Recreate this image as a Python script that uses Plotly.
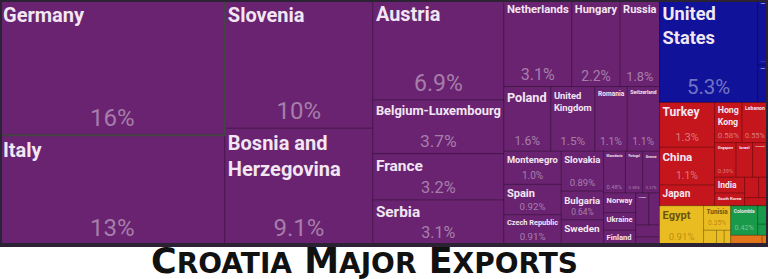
import math
import plotly.graph_objects as go

# ---------------- data ----------------
continents = ["Europe", "North America", "Asia", "Africa", "South America", "Oceania"]
continent_colors = ["#6a2370", "#10139a", "#c4161c", "#e9bd22", "#189a4a", "#e2741c"]

countries = [
    "Germany", "Italy", "Slovenia", "Bosnia and Herzegovina", "Austria",
    "Belgium-Luxembourg", "France", "Serbia", "Netherlands", "Hungary", "Russia",
    "Poland", "United Kingdom", "Romania", "Switzerland", "Montenegro", "Spain",
    "Czech Republic", "Slovakia", "Bulgaria", "Sweden", "Macedonia", "Portugal",
    "Greece", "Norway", "Ukraine", "Finland", "Ireland", "Denmark", "Albania", "Lithuania",
    "United States", "Canada", "Mexico",
    "Turkey", "China", "Japan", "Hong Kong", "Lebanon", "Singapore", "Israel",
    "United Arab Emirates", "India", "South Korea", "Saudi Arabia", "Iran", "Taiwan",
    "Egypt", "Tunisia", "Algeria", "Morocco", "Libya",
    "Colombia", "Brazil", "Argentina",
    "Australia", "New Zealand",
]
country_continent = (
    ["Europe"] * 31
    + ["North America"] * 3
    + ["Asia"] * 13
    + ["Africa"] * 5
    + ["South America"] * 3
    + ["Oceania"] * 2
)
shares = [
    16, 13, 10, 9.1, 6.9,
    3.7, 3.2, 3.1, 3.1, 2.2, 1.8,
    1.6, 1.5, 1.1, 1.1, 1.0, 0.92,
    0.91, 0.89, 0.64, 0.56, 0.48, 0.38,
    0.37, 0.33, 0.30, 0.25, 0.22, 0.18, 0.15, 0.10,
    5.3, 0.35, 0.20,
    1.3, 1.1, 0.60, 0.58, 0.55, 0.39, 0.30,
    0.28, 0.25, 0.20, 0.15, 0.10, 0.10,
    0.91, 0.35, 0.10, 0.06, 0.05,
    0.42, 0.10, 0.06,
    0.16, 0.03,
]
line_breaks = {
    "Bosnia and Herzegovina": "Bosnia and<br>Herzegovina",
    "United States": "United<br>States",
    "United Kingdom": "United<br>Kingdom",
    "Hong Kong": "Hong<br>Kong",
}
title_text = "Croatia Major Exports"

# visibility of text on small tiles (as in the reference)
label_min_share = 0.2
pct_min_share = 0.34
pct_hidden = {"Japan", "Sweden"}

# ---------------- build hierarchy ----------------
ids = ["World"] + continents + countries
parents = [""] + ["World"] * len(continents) + country_continent
values = [0] * (1 + len(continents)) + shares

cmap = dict(zip(continents, continent_colors))
colors = ["#2b2233"] + continent_colors + [cmap[c] for c in country_continent]


def pct(v):
    if v >= 10:
        return f"{v:.0f}%"
    if v >= 1:
        return f"{v:.1f}%"
    return f"{v:.2f}%"


n_par = 1 + len(continents)
label_text = [""] * n_par + [
    ("<b>" + line_breaks.get(c, c) + "</b>") if v >= label_min_share else ""
    for c, v in zip(countries, shares)
]
pct_text = [""] * n_par + [
    pct(v) if (v >= pct_min_share and c not in pct_hidden) else ""
    for c, v in zip(countries, shares)
]

label_sizes = [10] * n_par + [min(20, 6 + 5.3 * math.sqrt(v)) for v in shares]
pct_sizes = [10] * n_par + [min(24, 2 + 8 * math.sqrt(v)) for v in shares]

label_colors = ["#ffffff"] * n_par + [
    "#6b5410" if c == "Africa" else "#f3e6f3" for c in country_continent
]
pct_colors = ["#ffffff"] * n_par + [
    "rgba(150,90,0,0.55)" if c == "Africa" else "rgba(255,255,255,0.42)"
    for c in country_continent
]

common = dict(
    ids=ids,
    labels=ids,
    parents=parents,
    values=values,
    branchvalues="remainder",
    sort=False,
    texttemplate="%{text}",
    pathbar=dict(visible=False),
    tiling=dict(packing="squarify", squarifyratio=1.618, pad=0),
    domain=dict(x=[0, 1], y=[0, 1]),
    hoverinfo="skip",
)

fig = go.Figure()
fig.add_trace(
    go.Treemap(
        **common,
        text=label_text,
        textposition="top left",
        textfont=dict(family="Roboto", size=label_sizes, color=label_colors),
        marker=dict(
            colors=colors,
            line=dict(width=1, color="rgba(0,0,0,0.22)"),
            pad=dict(t=0, l=0, r=0, b=0),
        ),
    )
)
fig.add_trace(
    go.Treemap(
        **common,
        text=pct_text,
        textposition="bottom center",
        textfont=dict(family="Roboto", size=pct_sizes, color=pct_colors),
        marker=dict(
            colors=["rgba(0,0,0,0)"] * len(ids),
            line=dict(width=0, color="rgba(0,0,0,0)"),
            pad=dict(t=0, l=0, r=0, b=0),
        ),
    )
)

# title in small caps: first letter of each word full size, rest smaller
title_size = 35
small_size = round(title_size * 0.81)
title_html = " ".join(
    w[0] + f"<span style='font-size:{small_size}px'>{w[1:]}</span>"
    for w in title_text.split()
)

fig.update_layout(
    width=768,
    height=279,
    margin=dict(l=0, r=0, t=0, b=34),
    paper_bgcolor="white",
    plot_bgcolor="white",
    showlegend=False,
    shapes=[
        dict(
            type="rect", xref="paper", yref="paper", x0=0, x1=1, y0=0, y1=1,
            line=dict(color="#2b2233", width=4), fillcolor="rgba(0,0,0,0)",
        )
    ],
    annotations=[
        dict(
            text="<b>" + title_html + "</b>",
            xref="paper", yref="paper", x=364 / 768, y=-0.066,
            xanchor="center", yanchor="middle", showarrow=False,
            font=dict(family="DejaVu Sans", size=title_size, color="#111111",
                      textcase="upper"),
        )
    ],
)

fig.write_html("out.html")
